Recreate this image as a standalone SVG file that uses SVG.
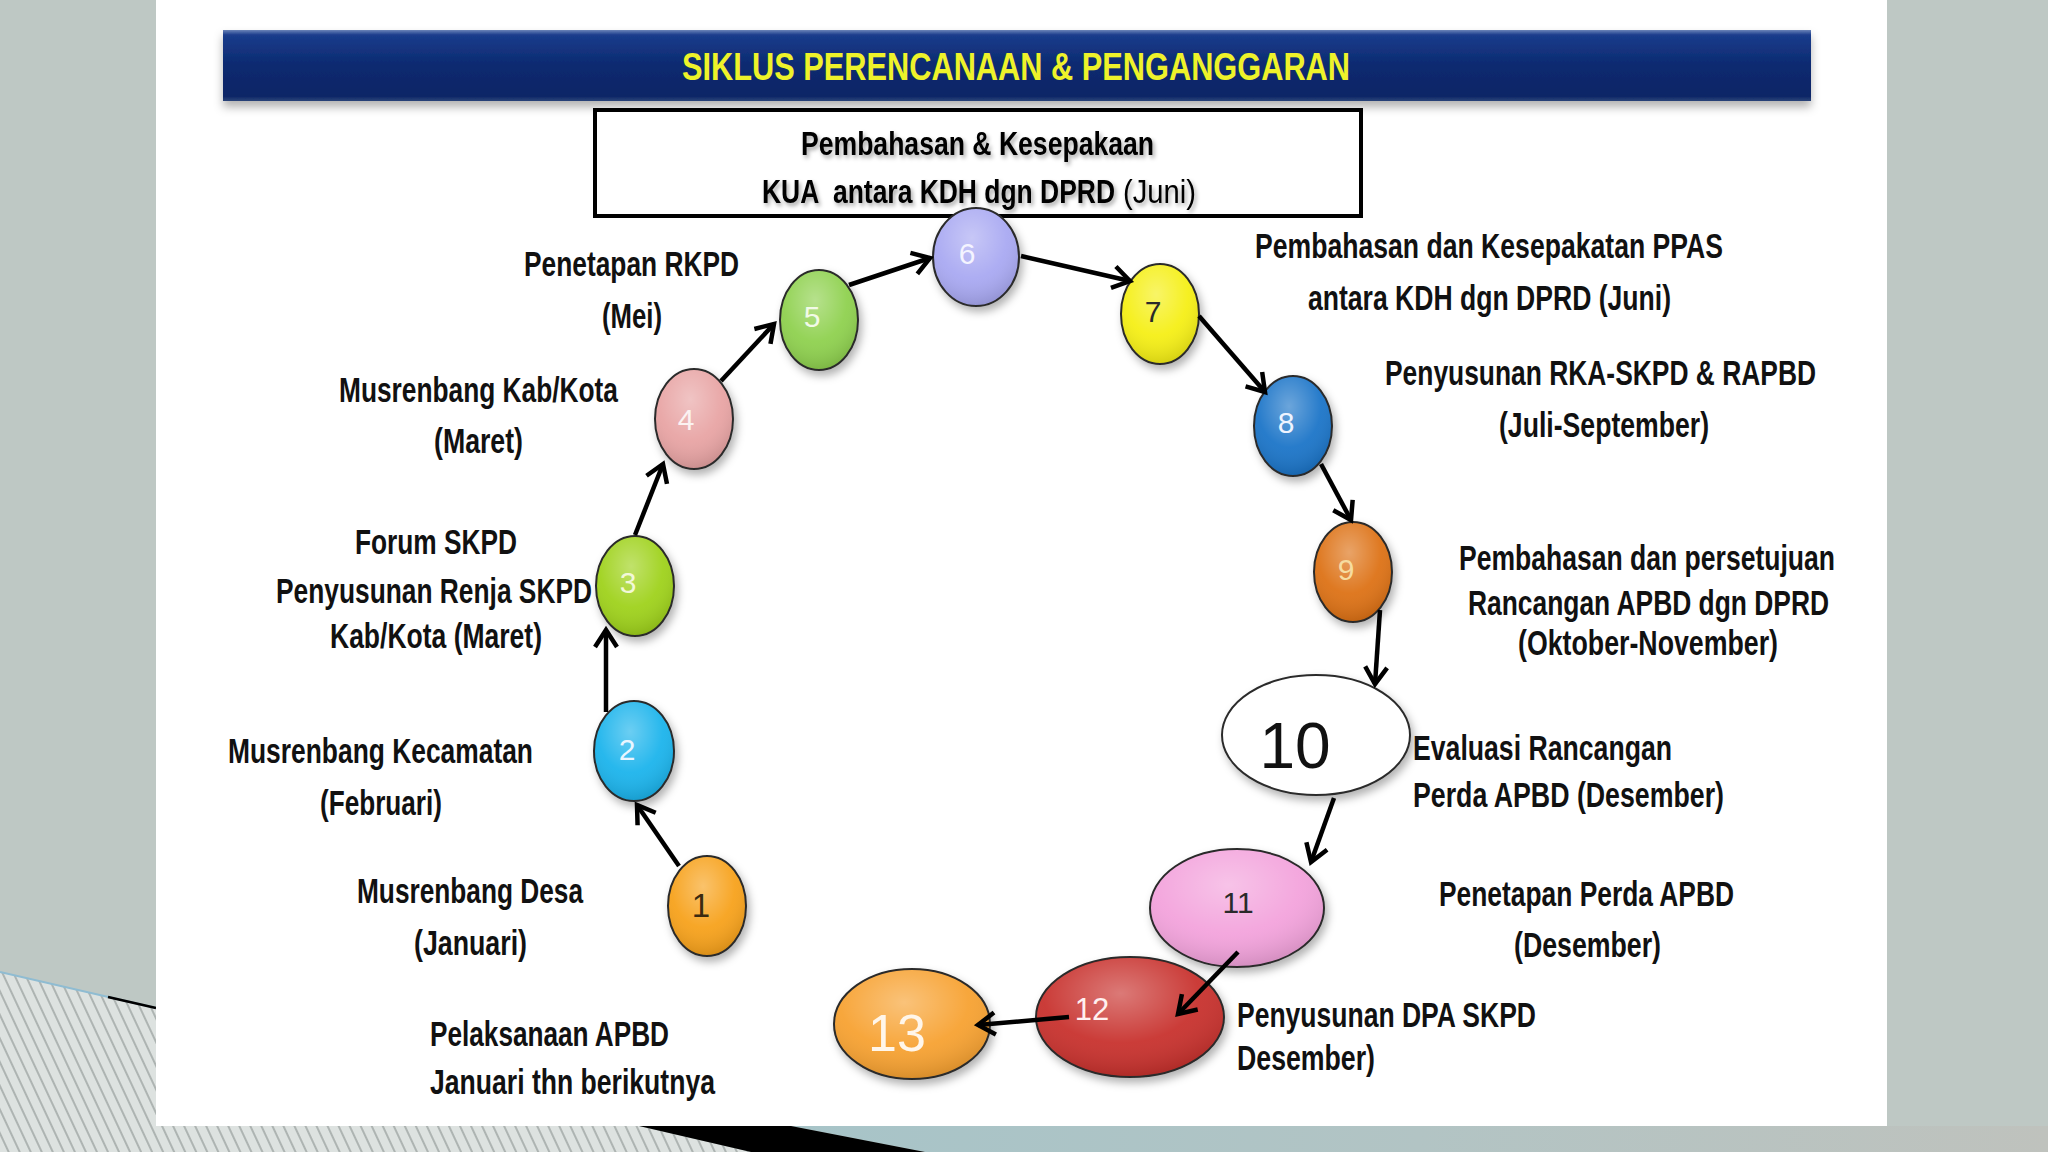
<svg xmlns="http://www.w3.org/2000/svg" width="2048" height="1152" viewBox="0 0 2048 1152">
<defs>
<style>
.lbl{font-family:"Liberation Sans Narrow","Liberation Sans",Arial,sans-serif;font-weight:bold;font-size:35px;fill:#111}
.box{font-family:"Liberation Sans Narrow","Liberation Sans",Arial,sans-serif;font-weight:bold;font-size:34px;fill:#000}
.num{font-family:"Liberation Sans",Arial,sans-serif;text-anchor:middle}
.node{stroke:#2b2b2b;stroke-width:2}
.conn{fill:none;stroke:#000;stroke-width:4.5;marker-end:url(#arrow)}
</style>
<pattern id="hatch" patternUnits="userSpaceOnUse" width="10" height="10" patternTransform="rotate(-25)">
<rect width="10" height="10" fill="#dde2e0"/>
<line x1="1" y1="0" x2="1" y2="10" stroke="#8e9593" stroke-width="1.2"/>
</pattern>
<linearGradient id="barGrad" x1="0" y1="0" x2="0" y2="1">
<stop offset="0" stop-color="#6a84b8"/>
<stop offset="0.07" stop-color="#1a3c8c"/>
<stop offset="0.5" stop-color="#0c2a70"/>
<stop offset="0.93" stop-color="#0a2566"/>
<stop offset="1" stop-color="#2a4478"/>
</linearGradient>
<linearGradient id="stripGrad" x1="0" y1="0" x2="1" y2="0">
<stop offset="0" stop-color="#a7c4c8"/>
<stop offset="0.5" stop-color="#b2c4c4"/>
<stop offset="1" stop-color="#bfc2bd"/>
</linearGradient>
<radialGradient id="gloss" cx="0.45" cy="0.3" r="0.7">
<stop offset="0" stop-color="#fff" stop-opacity="0.35"/>
<stop offset="0.6" stop-color="#fff" stop-opacity="0.05"/>
<stop offset="1" stop-color="#000" stop-opacity="0.12"/>
</radialGradient>
<filter id="shadow" x="-30%" y="-30%" width="160%" height="170%">
<feDropShadow dx="3" dy="5" stdDeviation="4" flood-color="#000" flood-opacity="0.3"/>
</filter>
<filter id="barShadow" x="-5%" y="-30%" width="110%" height="180%">
<feDropShadow dx="0" dy="6" stdDeviation="5" flood-color="#000" flood-opacity="0.3"/>
</filter>
<filter id="txtShadow" x="-5%" y="-30%" width="110%" height="170%">
<feDropShadow dx="2" dy="3" stdDeviation="2" flood-color="#000" flood-opacity="0.35"/>
</filter>
<marker id="arrow" markerUnits="userSpaceOnUse" viewBox="-22 -16 28 32" markerWidth="28" markerHeight="32" refX="0" refY="0" orient="auto" overflow="visible">
<path d="M-17,-11 L0,0 L-17,11" fill="none" stroke="#000" stroke-width="4.5" stroke-linejoin="miter"/>
</marker>
</defs>

<!-- background -->
<g id="background">
<rect x="0" y="0" width="2048" height="1152" fill="#bec8c4"/>
<polygon points="0,972 156,1008 156,1126 639,1126 751,1152 0,1152" fill="url(#hatch)"/>
<line x1="0" y1="972" x2="156" y2="1008" stroke="#8fbcd2" stroke-width="2"/>
<line x1="108" y1="997" x2="156" y2="1008" stroke="#000" stroke-width="2.5"/>
<polygon points="791,1126 2048,1126 2048,1152 925,1152" fill="url(#stripGrad)"/>
<polygon points="639,1126 791,1126 925,1152 751,1152" fill="#000"/>
<rect x="156" y="0" width="1731" height="1126" fill="#ffffff"/>
</g>

<!-- title bar -->
<g id="title">
<rect x="223" y="30" width="1588" height="71" fill="url(#barGrad)" filter="url(#barShadow)"/>
<text x="682" y="80" font-family="'Liberation Sans',Arial,sans-serif" font-weight="bold" font-size="38" fill="#eef22a" textLength="668" lengthAdjust="spacingAndGlyphs">SIKLUS PERENCANAAN &amp; PENGANGGARAN</text>
</g>

<!-- KUA box -->
<g id="kua-box">
<rect x="595" y="110" width="766" height="106" fill="#fff" stroke="#000" stroke-width="4"/>
<g filter="url(#txtShadow)">
<text class="box" x="801" y="155" textLength="353" lengthAdjust="spacingAndGlyphs">Pembahasan &amp; Kesepakaan</text>
<text class="box" x="762" y="203" textLength="353" lengthAdjust="spacingAndGlyphs" style="white-space:pre">KUA  antara KDH dgn DPRD</text>
<text class="box" x="1123" y="203" style="font-weight:normal" textLength="73" lengthAdjust="spacingAndGlyphs">(Juni)</text>
</g>
</g>

<!-- nodes -->
<g id="node-1">
<ellipse class="node" cx="707" cy="906" rx="39" ry="50" fill="#f7a21b" filter="url(#shadow)"/>
<ellipse cx="707" cy="906" rx="38" ry="49" fill="url(#gloss)"/>
<text class="num" x="701" y="917" fill="#3a2a10" style="font-size:33px">1</text>
<text class="lbl" x="357" y="903" textLength="226" lengthAdjust="spacingAndGlyphs">Musrenbang Desa</text>
<text class="lbl" x="414" y="955" textLength="113" lengthAdjust="spacingAndGlyphs">(Januari)</text>
</g>
<g id="node-2">
<ellipse class="node" cx="634" cy="751" rx="40" ry="50" fill="#1eb4ec" filter="url(#shadow)"/>
<ellipse cx="634" cy="751" rx="39" ry="49" fill="url(#gloss)"/>
<text class="num" x="627" y="760" fill="#eaf6ff" style="font-size:30px">2</text>
<text class="lbl" x="228" y="763" textLength="305" lengthAdjust="spacingAndGlyphs">Musrenbang Kecamatan</text>
<text class="lbl" x="320" y="815" textLength="122" lengthAdjust="spacingAndGlyphs">(Februari)</text>
</g>
<g id="node-3">
<ellipse class="node" cx="635" cy="586" rx="39" ry="50" fill="#9fd21a" filter="url(#shadow)"/>
<ellipse cx="635" cy="586" rx="38" ry="49" fill="url(#gloss)"/>
<text class="num" x="628" y="593" fill="#f2f8d8" style="font-size:30px">3</text>
<text class="lbl" x="355" y="554" textLength="162" lengthAdjust="spacingAndGlyphs">Forum SKPD</text>
<text class="lbl" x="276" y="603" textLength="316" lengthAdjust="spacingAndGlyphs">Penyusunan Renja SKPD</text>
<text class="lbl" x="330" y="648" textLength="212" lengthAdjust="spacingAndGlyphs">Kab/Kota (Maret)</text>
</g>
<g id="node-4">
<ellipse class="node" cx="694" cy="419" rx="39" ry="50" fill="#e8a4a4" filter="url(#shadow)"/>
<ellipse cx="694" cy="419" rx="38" ry="49" fill="url(#gloss)"/>
<text class="num" x="686" y="430" fill="#fbf2f2" style="font-size:30px">4</text>
<text class="lbl" x="339" y="402" textLength="279" lengthAdjust="spacingAndGlyphs">Musrenbang Kab/Kota</text>
<text class="lbl" x="434" y="453" textLength="89" lengthAdjust="spacingAndGlyphs">(Maret)</text>
</g>
<g id="node-5">
<ellipse class="node" cx="819" cy="320" rx="39" ry="50" fill="#8fd14f" filter="url(#shadow)"/>
<ellipse cx="819" cy="320" rx="38" ry="49" fill="url(#gloss)"/>
<text class="num" x="812" y="327" fill="#f2fae8" style="font-size:30px">5</text>
<text class="lbl" x="524" y="276" textLength="215" lengthAdjust="spacingAndGlyphs">Penetapan RKPD</text>
<text class="lbl" x="602" y="328" textLength="60" lengthAdjust="spacingAndGlyphs">(Mei)</text>
</g>
<g id="node-6">
<ellipse class="node" cx="976" cy="257" rx="43" ry="49" fill="#a9a9f2" filter="url(#shadow)"/>
<ellipse cx="976" cy="257" rx="42" ry="48" fill="url(#gloss)"/>
<text class="num" x="967" y="264" fill="#f4f4ff" style="font-size:30px">6</text>
</g>
<g id="node-7">
<ellipse class="node" cx="1160" cy="314" rx="39" ry="50" fill="#f5ef14" filter="url(#shadow)"/>
<ellipse cx="1160" cy="314" rx="38" ry="49" fill="url(#gloss)"/>
<text class="num" x="1153" y="322" fill="#2a2a2a" style="font-size:30px">7</text>
<text class="lbl" x="1255" y="258" textLength="468" lengthAdjust="spacingAndGlyphs">Pembahasan dan Kesepakatan PPAS</text>
<text class="lbl" x="1308" y="310" textLength="363" lengthAdjust="spacingAndGlyphs">antara KDH dgn DPRD (Juni)</text>
</g>
<g id="node-8">
<ellipse class="node" cx="1293" cy="426" rx="39" ry="50" fill="#1d74c8" filter="url(#shadow)"/>
<ellipse cx="1293" cy="426" rx="38" ry="49" fill="url(#gloss)"/>
<text class="num" x="1286" y="433" fill="#eef4ff" style="font-size:30px">8</text>
<text class="lbl" x="1385" y="385" textLength="431" lengthAdjust="spacingAndGlyphs">Penyusunan RKA-SKPD &amp; RAPBD</text>
<text class="lbl" x="1499" y="437" textLength="210" lengthAdjust="spacingAndGlyphs">(Juli-September)</text>
</g>
<g id="node-9">
<ellipse class="node" cx="1353" cy="572" rx="39" ry="50" fill="#dd7212" filter="url(#shadow)"/>
<ellipse cx="1353" cy="572" rx="38" ry="49" fill="url(#gloss)"/>
<text class="num" x="1346" y="580" fill="#f6dca0" style="font-size:30px">9</text>
<text class="lbl" x="1459" y="570" textLength="376" lengthAdjust="spacingAndGlyphs">Pembahasan dan persetujuan</text>
<text class="lbl" x="1468" y="615" textLength="361" lengthAdjust="spacingAndGlyphs">Rancangan APBD dgn DPRD</text>
<text class="lbl" x="1518" y="655" textLength="260" lengthAdjust="spacingAndGlyphs">(Oktober-November)</text>
</g>
<g id="node-10">
<ellipse class="node" cx="1316" cy="735" rx="94" ry="60" fill="#ffffff" filter="url(#shadow)"/>
<text class="num" x="1295" y="768" fill="#111" style="font-size:64px">10</text>
<text class="lbl" x="1413" y="760" textLength="259" lengthAdjust="spacingAndGlyphs">Evaluasi Rancangan</text>
<text class="lbl" x="1413" y="807" textLength="311" lengthAdjust="spacingAndGlyphs">Perda APBD (Desember)</text>
</g>
<g id="node-11">
<ellipse class="node" cx="1237" cy="908" rx="87" ry="59" fill="#f3a3dc" filter="url(#shadow)"/>
<ellipse cx="1237" cy="908" rx="86" ry="58" fill="url(#gloss)"/>
<text class="num" x="1238" y="913" fill="#2a2a2a" style="font-size:30px">11</text>
<text class="lbl" x="1439" y="906" textLength="295" lengthAdjust="spacingAndGlyphs">Penetapan Perda APBD</text>
<text class="lbl" x="1514" y="957" textLength="147" lengthAdjust="spacingAndGlyphs">(Desember)</text>
</g>
<g id="node-12">
<ellipse class="node" cx="1130" cy="1017" rx="94" ry="60" fill="#c8322e" filter="url(#shadow)"/>
<ellipse cx="1130" cy="1017" rx="93" ry="59" fill="url(#gloss)"/>
<text class="num" x="1092" y="1020" fill="#fff0f0" style="font-size:31px">12</text>
<text class="lbl" x="1237" y="1027" textLength="299" lengthAdjust="spacingAndGlyphs">Penyusunan DPA SKPD</text>
<text class="lbl" x="1237" y="1070" textLength="138" lengthAdjust="spacingAndGlyphs">Desember)</text>
</g>
<g id="node-13">
<ellipse class="node" cx="912" cy="1024" rx="78" ry="55" fill="#f7a233" filter="url(#shadow)"/>
<ellipse cx="912" cy="1024" rx="77" ry="54" fill="url(#gloss)"/>
<text class="num" x="897" y="1051" fill="#fff6ea" style="font-size:52px">13</text>
<text class="lbl" x="430" y="1046" textLength="239" lengthAdjust="spacingAndGlyphs">Pelaksanaan APBD</text>
<text class="lbl" x="430" y="1094" textLength="285" lengthAdjust="spacingAndGlyphs">Januari thn berikutnya</text>
</g>

<!-- connectors -->
<g id="connectors">
<line class="conn" x1="679" y1="866" x2="637" y2="805"/>
<line class="conn" x1="606" y1="712" x2="606" y2="630"/>
<line class="conn" x1="635" y1="535" x2="663" y2="464"/>
<line class="conn" x1="721" y1="381" x2="774" y2="324"/>
<line class="conn" x1="849" y1="285" x2="930" y2="258"/>
<line class="conn" x1="1021" y1="256" x2="1130" y2="281"/>
<line class="conn" x1="1199" y1="316" x2="1265" y2="392"/>
<line class="conn" x1="1321" y1="464" x2="1351" y2="520"/>
<line class="conn" x1="1380" y1="610" x2="1375" y2="684"/>
<line class="conn" x1="1334" y1="798" x2="1311" y2="862"/>
<line class="conn" x1="1238" y1="952" x2="1178" y2="1014"/>
<line class="conn" x1="1069" y1="1017" x2="978" y2="1025"/>
</g>
</svg>
